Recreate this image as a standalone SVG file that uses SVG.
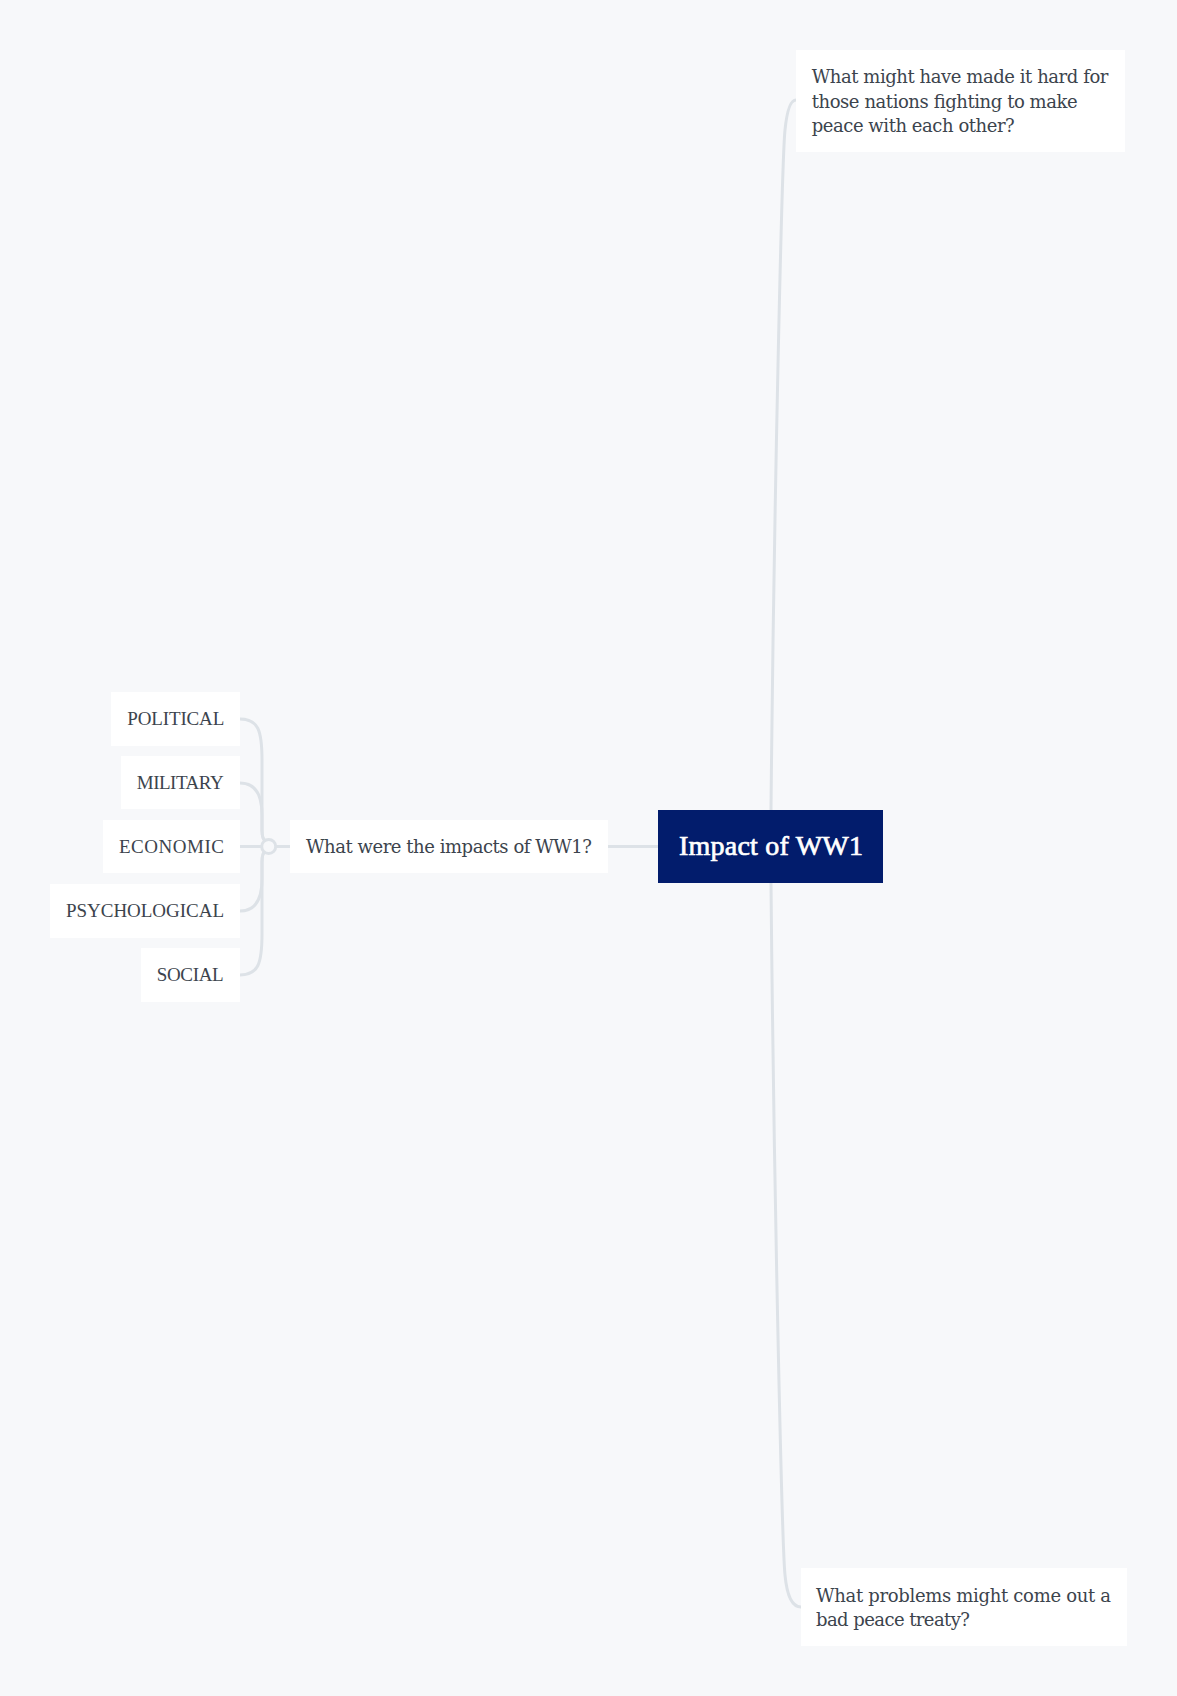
<svg xmlns="http://www.w3.org/2000/svg" width="1177" height="1696" viewBox="0 0 1177 1696">
<style>
.bg{fill:#f7f8fa}
.box{fill:#ffffff}
.lbl{font-family:"DejaVu Serif","Liberation Serif",serif;font-size:18px;fill:#3c444d}
.cap{font-family:"Liberation Serif","DejaVu Serif",serif;font-size:19px;fill:#3c444d}
.conn{fill:none;stroke:#dde2e7;stroke-width:3;stroke-linecap:round}
.root{fill:#021c6c}
.rootlbl{font-family:"Liberation Serif","DejaVu Serif",serif;font-size:28px;fill:#ffffff;stroke:#ffffff;stroke-width:0.7}
</style>
<rect class="bg" x="0" y="0" width="1177" height="1696"/>
<g id="connectors">
<path class="conn" d="M771 810 C 774 500 782 160 785 130 Q 788 100 796 100"/>
<path class="conn" d="M771 883 C 774 1200 782 1545 785 1575 Q 788 1607 801 1607"/>
<path class="conn" d="M658 846.5 L608 846.5"/>
<path class="conn" d="M290 846.5 L276 846.5"/>
<path class="conn" d="M240 719 C 258 719 262 730 262 760 L262 830 Q262 840 266 841"/>
<path class="conn" d="M240 783 C 256 783 262 795 262 815 L262 830 Q262 840 266 841"/>
<path class="conn" d="M240 846.5 L261.5 846.5"/>
<path class="conn" d="M240 911 C 256 911 262 899 262 879 L262 862 Q262 852 266 851"/>
<path class="conn" d="M240 975 C 258 975 262 964 262 934 L262 862 Q262 852 266 851"/>
<circle cx="268.7" cy="846.5" r="7" fill="#f7f8fa" stroke="#dde2e7" stroke-width="3"/>
</g>
<g id="root">
<rect class="root" x="658" y="810" width="225" height="73"/>
<text class="rootlbl" x="679" y="855" textLength="184">Impact of WW1</text>
</g>
<g id="q-impacts">
<rect class="box" x="290" y="820" width="318" height="53"/>
<text class="lbl" x="306" y="853.3" textLength="286">What were the impacts of WW1?</text>
</g>
<g id="n-political">
<rect class="box" x="111" y="692" width="129" height="54"/>
<text class="cap" x="127.3" y="725" textLength="97">POLITICAL</text>
</g>
<g id="n-military">
<rect class="box" x="121" y="756" width="119" height="53"/>
<text class="cap" x="136.7" y="789" textLength="87">MILITARY</text>
</g>
<g id="n-economic">
<rect class="box" x="103" y="820" width="137" height="53"/>
<text class="cap" x="119" y="853.3" textLength="105">ECONOMIC</text>
</g>
<g id="n-psychological">
<rect class="box" x="50" y="884" width="190" height="54"/>
<text class="cap" x="66" y="917.3" textLength="158">PSYCHOLOGICAL</text>
</g>
<g id="n-social">
<rect class="box" x="141" y="948" width="99" height="54"/>
<text class="cap" x="156.7" y="981.3" textLength="67">SOCIAL</text>
</g>
<g id="q-peace">
<rect class="box" x="796" y="50" width="329" height="102"/>
<text class="lbl" x="811.7" y="83.3" textLength="296.7">What might have made it hard for</text>
<text class="lbl" x="811.7" y="107.5" textLength="266">those nations fighting to make</text>
<text class="lbl" x="811.7" y="131.5" textLength="203">peace with each other?</text>
</g>
<g id="q-treaty">
<rect class="box" x="801" y="1568" width="326" height="78"/>
<text class="lbl" x="816" y="1601.7" textLength="295">What problems might come out a</text>
<text class="lbl" x="816" y="1625.5" textLength="154">bad peace treaty?</text>
</g>
</svg>
